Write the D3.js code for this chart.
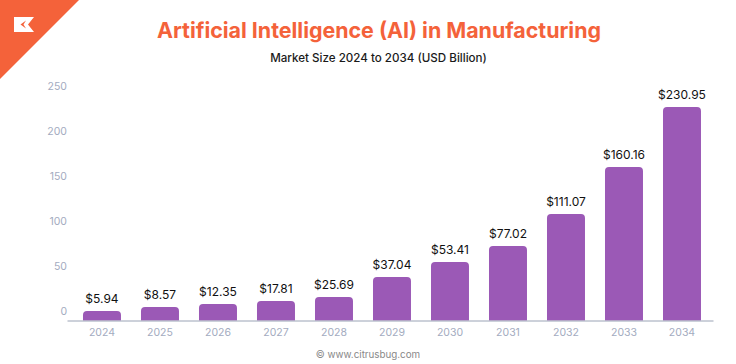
<!DOCTYPE html>
<html>
<head>
<meta charset="utf-8">
<script src="https://cdn.jsdelivr.net/npm/d3@7"></script>
<style>
  html, body { margin: 0; background: #fff; }
  text { font-family: Inter, "Noto Sans", sans-serif; }
</style>
</head>
<body>
<div id="chart"></div>
<script>
const years = ['2024', '2025', '2026', '2027', '2028', '2029', '2030', '2031', '2032', '2033', '2034']
// printed labels
const marketSize = [5.94, 8.57, 12.35, 17.81, 25.69, 37.04, 53.41, 77.02, 111.07, 160.16, 230.95]
// bar tops as read against the printed axis (the bars do not follow their labels exactly)
const barLevels = [0, 4.4, 7.8, 11.1, 15.6, 37.8, 54.4, 72.2, 107.8, 160, 226.7]
const yTicks = [0, 50, 100, 150, 200, 250]

const width = 736
const height = 364
const baseline = 320.5

const x = d3.scaleBand().domain(years).range([67, 713])
    .paddingInner(0.345).paddingOuter(0.2414).align(0.571)
const y = d3.scaleLinear().domain([0, 250]).range([311, 86])

const svg = d3.select('#chart').append('svg')
    .attr('width', width)
    .attr('height', height)
    .attr('viewBox', `0 0 ${width} ${height}`)
    .style('display', 'block')

// corner flag with logo
svg.append('path').attr('d', 'M0,0H79L0,79Z').attr('fill', '#f4623a')
svg.append('path').attr('d', 'M14,17H34L28,24.5L34,32H14Z').attr('fill', '#fff')
svg.append('path').attr('d', 'M26,20.5L20.5,24.5L26,28.5L23.5,24.5Z').attr('fill', '#f4623a')

svg.append('text')
    .attr('x', 379)
    .attr('y', 38)
    .attr('text-anchor', 'middle')
    .attr('font-size', 21.4)
    .attr('font-weight', 700)
    .attr('fill', '#f4623a')
    .text('Artificial Intelligence (AI) in Manufacturing')

svg.append('text')
    .attr('x', 378.5)
    .attr('y', 62)
    .attr('text-anchor', 'middle')
    .attr('font-size', 11.6)
    .attr('font-weight', 500)
    .attr('fill', '#1a1a1a')
    .text('Market Size 2024 to 2034 (USD Billion)')

const bars = svg.append('g')
bars.selectAll('path')
  .data(years)
  .join('path')
    .attr('fill', '#9b59b6')
    .attr('d', (d, i) => {
      const left = x(d)
      const right = left + x.bandwidth()
      const top = y(barLevels[i])
      const r = 4
      return `M${left},${baseline}V${top + r}Q${left},${top} ${left + r},${top}H${right - r}Q${right},${top} ${right},${top + r}V${baseline}Z`
    })

svg.append('g')
  .selectAll('text')
  .data(years)
  .join('text')
    .attr('x', d => x(d) + x.bandwidth() / 2)
    .attr('y', (d, i) => y(barLevels[i]) - 8)
    .attr('text-anchor', 'middle')
    .attr('font-size', 12)
    .attr('font-weight', 400)
    .attr('fill', '#111')
    .text((d, i) => d3.format('$.2f')(marketSize[i]))

const xAxis = svg.append('g')
    .attr('transform', `translate(0,${baseline})`)
    .call(d3.axisBottom(x).tickSize(0).tickPadding(8))
xAxis.select('.domain').attr('stroke', '#9aa3b5').attr('stroke-width', 1)
xAxis.selectAll('text').attr('font-size', 10.5).attr('fill', '#a3abc0').style('font-family', 'Inter')

const yAxis = svg.append('g')
    .attr('transform', 'translate(67,0)')
    .call(d3.axisLeft(y).tickValues(yTicks).tickSize(0).tickPadding(0))
yAxis.select('.domain').remove()
yAxis.selectAll('text').attr('font-size', 10.5).attr('fill', '#a3abc0').style('font-family', 'Inter')

svg.append('text')
    .attr('x', 368)
    .attr('y', 358)
    .attr('text-anchor', 'middle')
    .attr('font-size', 9.8)
    .attr('fill', '#888')
    .text('© www.citrusbug.com')
</script>
</body>
</html>
